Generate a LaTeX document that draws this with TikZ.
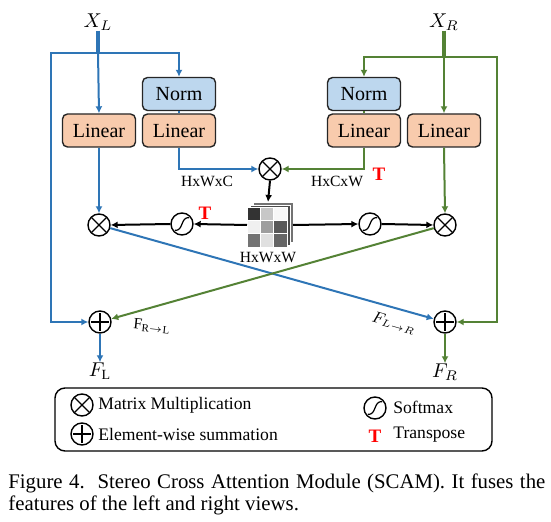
\documentclass[tikz,border=0pt]{standalone}
\usepackage{fontspec}
\setmainfont{Liberation Serif}
\usetikzlibrary{arrows.meta,positioning}
\definecolor{lblue}{HTML}{2E75B6}
\definecolor{rgreen}{HTML}{548235}
\definecolor{normfill}{HTML}{BDD7EE}
\definecolor{linfill}{HTML}{F8CBAD}
\begin{document}
\begin{tikzpicture}[
    x = 0.5pt, y = -0.5pt,
    >={Latex[length=3.5pt,width=3.5pt]},
    block/.style = {draw = black!85, line width = 0.7pt, rounded corners = 2.5pt,
                    minimum width = 36.5pt, minimum height = 16.5pt, inner sep = 0pt,
                    font = \fontsize{10}{12}\selectfont},
    normblock/.style = {block, fill = normfill},
    linblock/.style  = {block, fill = linfill},
    opnode/.style = {circle, draw, line width = 0.7pt, minimum size = 11pt, inner sep = 0pt},
    mult/.style = {opnode, path picture = {
        \draw[line width = 0.6pt]
          ([shift={(-3.7pt,-3.7pt)}]path picture bounding box.center) -- ([shift={(3.7pt,3.7pt)}]path picture bounding box.center)
          ([shift={(-3.7pt,3.7pt)}]path picture bounding box.center) -- ([shift={(3.7pt,-3.7pt)}]path picture bounding box.center);}},
    summ/.style = {opnode, path picture = {
        \draw[line width = 0.6pt]
          ([xshift=-4.6pt]path picture bounding box.center) -- ([xshift=4.6pt]path picture bounding box.center)
          ([yshift=-4.6pt]path picture bounding box.center) -- ([yshift=4.6pt]path picture bounding box.center);}},
    sigm/.style = {opnode, path picture = {
        \draw[line width = 0.6pt]
          ([shift={(-3.6pt,-3.2pt)}]path picture bounding box.center)
          .. controls ([shift={(0.9pt,-3.6pt)}]path picture bounding box.center)
          and ([shift={(-0.9pt,3.6pt)}]path picture bounding box.center)
          .. ([shift={(3.6pt,3.2pt)}]path picture bounding box.center);}},
    lflow/.style = {lblue, line width = 1pt},
    rflow/.style = {rgreen, line width = 1pt},
    dims/.style = {font = \fontsize{7.8}{9}\selectfont, inner sep = 0pt},
    tmark/.style = {text = red, font = \bfseries\fontsize{9.5}{11}\selectfont, inner sep = 0pt},
    iolabel/.style = {font = \fontsize{10}{12}\selectfont, inner sep = 0pt},
    legtext/.style = {anchor = west, font = \fontsize{8.8}{10}\selectfont, inner sep = 0pt}
  ]
  \useasboundingbox (0,0) rectangle (551,522);
  % inputs
  \node[iolabel] (XL) at (98,22) {$X_L$};
  \node[iolabel] (XR) at (444,22) {$X_R$};
  \coordinate (jL) at (98,53);
  \coordinate (jR) at (444,57);
  % blocks
  \node[normblock] (normL) at (179,94)   {Norm};
  \node[linblock]  (linNL) at (179,130.5) {Linear};
  \node[linblock]  (linL)  at (99,130.5)  {Linear};
  \node[normblock] (normR) at (364,94)   {Norm};
  \node[linblock]  (linNR) at (364,130.5) {Linear};
  \node[linblock]  (linR)  at (444,130.5) {Linear};
  % operators
  \node[mult] (mulC) at (270,169) {};
  \node[mult] (mulL) at (99,225) {};
  \node[mult] (mulR) at (445,225) {};
  \node[sigm] (sigL) at (182,224) {};
  \node[sigm] (sigR) at (370,224) {};
  \node[summ] (sumL) at (100,322) {};
  \node[summ] (sumR) at (445,322) {};
  % attention map
  \node[minimum size = 20pt, inner sep = 0pt] (attn) at (267,227) {};
  \fill[black!55] (253,202) rectangle (293,242);
  \draw[white, line width = 0.3pt] (253,202) rectangle (293,242);
  \fill[black!70] (250,205) rectangle (290,245);
  \draw[white, line width = 0.3pt] (250,205) rectangle (290,245);
  \foreach \col/\row/\g in {0/0/80, 1/0/22, 2/0/3, 0/1/6, 1/1/38, 2/1/65, 0/2/55, 1/2/12, 2/2/60}
    \filldraw[fill = black!\g, draw = white, line width = 0.3pt]
      ({247 + 13.33*\col}, {207 + 13.33*\row}) rectangle ++(13.33,13.33);
  \node[dims] (dimW) at (268,258) {HxWxW};
  % left input
  \draw[lblue, line width = 1.8pt] (XL.south) -- (jL);
  \draw[->, lflow] (jL) -- (linL.north);
  \draw[->, lflow] (jL) -| (normL.north);
  \draw[->, lflow] (jL) -- ++(-47,0) |- (sumL.west);
  \draw[lflow] (normL) -- (linNL);
  \draw[->, lflow] (linNL.south) |- (mulC.west);
  \draw[->, lflow] (linL.south) -- (mulL.north);
  \node[dims] (dimC) at (207,181) {HxWxC};
  % right input
  \draw[rgreen, line width = 1.8pt] (XR.south) -- (jR);
  \draw[->, rflow] (jR) -- (linR.north);
  \draw[->, rflow] (jR) -| (normR.north);
  \draw[->, rflow] (jR) -- ++(53,0) |- (sumR.east);
  \draw[rflow] (normR) -- (linNR);
  \draw[->, rflow] (linNR.south) |- (mulC.east);
  \draw[->, rflow] (linR.south) -- (mulR.north);
  \node[dims] (dimT) at (337,181) {HxCxW};
  \node[tmark] (tR) at (379,174) {T};
  % attention
  \draw[->, line width = 1pt] (mulC.south) -- (268,202);
  \draw[->, line width = 1pt] (247,225) -- (sigL.east);
  \draw[->, line width = 1pt] (sigL.west) -- (mulL.east);
  \node[tmark] (tL) at (205,213) {T};
  \draw[->, line width = 1pt] (293,225) -- (sigR.west);
  \draw[->, line width = 1pt] (sigR.east) -- (mulR.west);
  % cross fusion
  \draw[->, lflow] (mulL) -- (sumR);
  \draw[->, rflow] (mulR) -- (sumL);
  \node[dims, rotate = -6] (fRL) at (152,326) {$\mathrm{F}_{\mathrm{R}\to\mathrm{L}}$};
  \node[dims, rotate = -16] (fLR) at (394,323) {$F_{L\to R}$};
  % outputs
  \node[iolabel] (FL) at (100,371) {$F_{\mathrm{L}}$};
  \node[iolabel] (FR) at (445,372) {$F_R$};
  \draw[->, lflow] (sumL.south) -- (FL.north);
  \draw[->, rflow] (sumR.south) -- (FR.north);
  % legend
  \node[draw, line width = 0.7pt, rounded corners = 5pt, minimum width = 218.5pt,
        minimum height = 31.5pt] (legend) at (273.5,419.5) {};
  \node[mult] (lgmul) at (82,405) {};
  \node[legtext] (lgmult) at (98,405) {Matrix Multiplication};
  \node[summ] (lgsum) at (82,434) {};
  \node[legtext] (lgsumt) at (98,434) {Element-wise summation};
  \node[sigm] (lgsig) at (375,408) {};
  \node[legtext] (lgsigt) at (393,407) {Softmax};
  \node[tmark] (lgT) at (375,436) {T};
  \node[legtext] (lgTt) at (393,435) {Transpose};
  % caption
  \node[anchor = west, inner sep = 0pt, font = \fontsize{10.4}{12}\selectfont] (cap1) at (8,483)
    {\makebox[268.5pt][s]{Figure 4.\ \ Stereo Cross Attention Module (SCAM). It fuses the}};
  \node[anchor = west, inner sep = 0pt, font = \fontsize{10.4}{12}\selectfont] (cap2) at (8,505)
    {features of the left and right views.};
\end{tikzpicture}
\end{document}
